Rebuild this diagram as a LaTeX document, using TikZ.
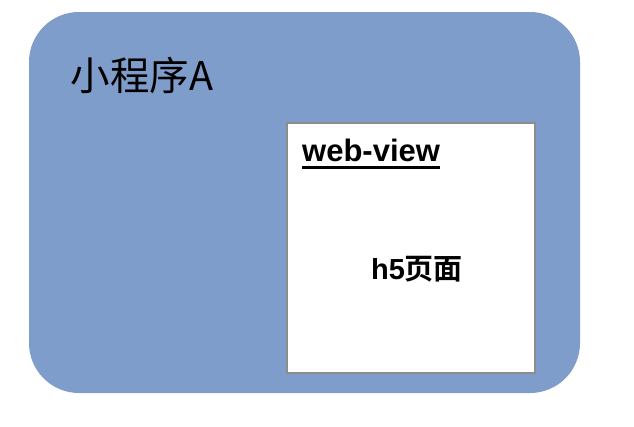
\documentclass[tikz,border=0pt]{standalone}
\usepackage{fontspec}
\setmainfont{Liberation Sans}
\newfontfamily\cjk{Noto Sans CJK SC}
\newfontfamily\cjkb{Noto Sans CJK SC Bold}
\definecolor{appblue}{HTML}{7F9DCA}
\definecolor{boxgray}{HTML}{8C8C8C}
\begin{document}
\begin{tikzpicture}[x=1pt,y=-1pt,
  app/.style={fill=appblue,draw=none,rounded corners=50pt},
  view/.style={fill=white,draw=boxgray,line width=1.5pt},
  lbl/.style={inner sep=0pt,text=black}]
\useasboundingbox (0,0) rectangle (634,426);
\fill[white] (0,0) rectangle (634,426);
\draw[app] (29,12) rectangle (580,393);
\node[lbl,font=\cjk\fontsize{39.5}{42}\selectfont] (title) at (142,75) {小程序A};
\draw[view] (287,123) rectangle (535,373);
\node[lbl,anchor=base west,font=\bfseries\fontsize{31}{34}\selectfont] (wv) at (302,161) {web-view};
\coordinate (ul1) at ([yshift=-6.5pt]wv.base west);
\coordinate (ul2) at ([yshift=-6.5pt]wv.base east);
\draw[line width=2.2pt] (ul1) -- (ul2);
\node[lbl,font=\fontsize{29}{32}\selectfont] (h5) at (417,269) {\textbf{h5}{\cjkb 页面}};
\end{tikzpicture}
\end{document}
